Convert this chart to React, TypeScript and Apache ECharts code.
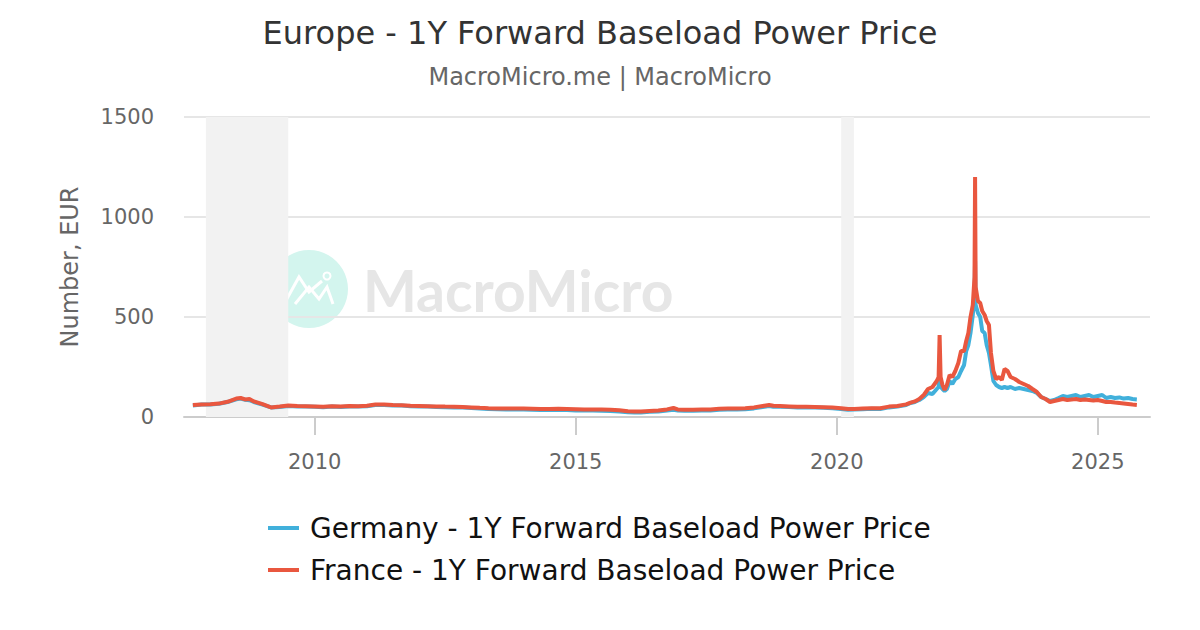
import React, { useEffect, useRef } from "react";
import * as echarts from "echarts";

const TITLE = "Europe - 1Y Forward Baseload Power Price";
const SUBTITLE = "MacroMicro.me | MacroMicro";
const Y_NAME = "Number, EUR";
const GERMANY_NAME = "Germany - 1Y Forward Baseload Power Price";
const FRANCE_NAME = "France - 1Y Forward Baseload Power Price";

const dates = [
  "2007-09-01", "2007-11-01", "2008-01-01", "2008-03-01", "2008-05-01", "2008-07-01", "2008-08-01", "2008-09-01",
  "2008-10-01", "2008-11-01", "2009-01-01", "2009-03-01", "2009-05-01", "2009-07-01", "2009-09-01", "2009-11-01",
  "2010-01-01", "2010-03-01", "2010-05-01", "2010-07-01", "2010-09-01", "2010-11-01", "2011-01-01", "2011-03-01",
  "2011-05-01", "2011-07-01", "2011-09-01", "2011-11-01", "2012-01-01", "2012-03-01", "2012-05-01", "2012-07-01",
  "2012-09-01", "2012-11-01", "2013-01-01", "2013-03-01", "2013-05-01", "2013-07-01", "2013-09-01", "2013-11-01",
  "2014-01-01", "2014-03-01", "2014-05-01", "2014-07-01", "2014-09-01", "2014-11-01", "2015-01-01", "2015-03-01",
  "2015-05-01", "2015-07-01", "2015-09-01", "2015-11-01", "2016-01-01", "2016-02-15", "2016-04-01", "2016-06-01",
  "2016-08-01", "2016-10-01", "2016-11-15", "2016-12-15", "2017-02-01", "2017-04-01", "2017-06-01", "2017-08-01",
  "2017-10-01", "2017-12-01", "2018-02-01", "2018-04-01", "2018-06-01", "2018-08-01", "2018-09-15", "2018-10-15",
  "2018-12-01", "2019-02-01", "2019-04-01", "2019-06-01", "2019-08-01", "2019-10-01", "2019-12-01", "2020-02-01",
  "2020-03-20", "2020-05-01", "2020-07-01", "2020-09-01", "2020-11-01", "2021-01-01", "2021-03-01", "2021-05-01",
  "2021-06-01", "2021-07-01", "2021-08-01", "2021-09-01", "2021-10-01", "2021-11-01", "2021-12-01", "2021-12-14",
  "2021-12-21", "2021-12-28", "2022-01-10", "2022-01-25", "2022-02-10", "2022-03-01", "2022-03-20", "2022-04-10",
  "2022-05-01", "2022-05-20", "2022-06-10", "2022-06-25", "2022-07-10", "2022-07-25", "2022-08-10", "2022-08-22",
  "2022-08-26", "2022-08-30", "2022-09-15", "2022-10-01", "2022-10-15", "2022-11-01", "2022-11-15", "2022-12-01",
  "2022-12-15", "2023-01-01", "2023-01-20", "2023-02-10", "2023-03-01", "2023-03-20", "2023-04-10", "2023-05-01",
  "2023-06-01", "2023-07-01", "2023-08-01", "2023-09-01", "2023-10-01", "2023-11-01", "2023-12-01", "2024-01-01",
  "2024-02-01", "2024-03-01", "2024-04-01", "2024-05-01", "2024-06-01", "2024-07-01", "2024-08-01", "2024-09-01",
  "2024-10-01", "2024-11-01", "2024-12-01", "2025-01-01", "2025-02-01", "2025-03-01", "2025-04-01", "2025-05-01",
  "2025-06-01", "2025-07-01", "2025-08-01", "2025-09-01", "2025-10-01",
];

const germany = [
  58, 62, 63, 66, 75, 88, 92, 86,
  84, 75, 62, 48, 50, 55, 53, 52,
  51, 49, 52, 50, 53, 52, 54, 60,
  60, 58, 57, 54, 53, 52, 50, 49,
  48, 47, 45, 43, 40, 39, 38, 38,
  37, 36, 35, 35, 36, 35, 33, 32,
  32, 31, 30, 28, 24, 22, 23, 26,
  27, 32, 36, 33, 31, 31, 32, 33,
  36, 37, 37, 39, 43, 50, 55, 51,
  51, 50, 48, 48, 48, 46, 44, 40,
  36, 37, 39, 41, 40, 48, 52, 60,
  70, 75, 85, 100, 120, 115, 140, 150,
  230, 150, 140, 130, 140, 180, 165, 190,
  200, 230, 260, 330, 360, 420, 510, 620,
  780, 560, 520, 500, 430, 420, 360, 320,
  260, 180, 160, 150, 145, 150, 145, 150,
  140, 145, 140, 135, 130, 120, 100, 90,
  80, 85, 95, 105, 100, 105, 110, 100,
  105, 110, 100, 105, 110, 95, 100, 95,
  98, 92, 95, 90, 88,
];

const france = [
  60, 63, 64, 67, 76, 92, 95, 88,
  90, 78, 64, 48, 52, 57, 55, 54,
  53, 51, 54, 52, 55, 54, 56, 62,
  62, 60, 59, 56, 55, 54, 53, 52,
  51, 50, 48, 46, 44, 43, 43, 43,
  42, 41, 40, 40, 41, 40, 39, 38,
  37, 37, 36, 34, 29, 27, 28, 30,
  32, 38, 45, 38, 36, 36, 37, 38,
  41, 42, 42, 44, 48, 55, 60, 56,
  55, 53, 51, 51, 50, 49, 47, 44,
  40, 40, 42, 44, 44, 52, 55, 63,
  72, 78, 90, 110, 140, 150, 180, 200,
  410, 200, 160, 135, 160, 210, 200, 230,
  270, 330, 330, 380, 420, 500, 560, 700,
  1200, 650, 580, 570, 530, 510, 480, 460,
  320, 230, 190, 200, 185, 240, 230, 200,
  190, 175, 165, 155, 140, 125, 100, 90,
  75, 80, 85, 90, 85, 88, 90, 85,
  88, 85, 82, 85, 80, 75, 75, 72,
  70, 68, 65, 62, 60,
];

const recessions = [
  ["2007-12-01", "2009-06-30"],
  ["2020-02-01", "2020-04-30"],
];

const X_MIN = "2007-07-01";
const X_MAX = "2026-01-01";
const xTickYears = [2010, 2015, 2020, 2025];

// convert an ISO date string to a decimal year
function toYear(d: string): number {
  const [y, m, day] = d.split("-").map(Number);
  const start = Date.UTC(y, 0, 1);
  const end = Date.UTC(y + 1, 0, 1);
  return y + (Date.UTC(y, m - 1, day) - start) / (end - start);
}

export default function App() {
  const ref = useRef<HTMLDivElement>(null);

  useEffect(() => {
    if (!ref.current) return;
    const chart = echarts.init(ref.current, null, { renderer: "svg" });
    const font = "DejaVu Sans";
    chart.setOption({
      animation: false,
      backgroundColor: "#ffffff",
      textStyle: { fontFamily: font },
      title: {
        text: TITLE,
        subtext: SUBTITLE,
        left: "center",
        top: 10,
        itemGap: 12,
        textStyle: { fontSize: 32, fontWeight: "normal", color: "#333333", lineHeight: 36, fontFamily: font },
        subtextStyle: { fontSize: 24, color: "#666666", lineHeight: 28, fontFamily: font },
      },
      legend: {
        orient: "vertical",
        left: 268,
        top: 513,
        padding: 0,
        itemGap: 12,
        itemWidth: 31,
        itemHeight: 4,
        icon: "rect",
        textStyle: { fontSize: 28, color: "#111111", lineHeight: 30, padding: [0, 0, 0, 6], fontFamily: font },
        data: [GERMANY_NAME, FRANCE_NAME],
      },
      grid: { left: 184, right: 50, top: 117, bottom: 213, containLabel: false },
      xAxis: {
        type: "value",
        min: toYear(X_MIN),
        max: toYear(X_MAX),
        axisLine: { show: true, lineStyle: { color: "#cccccc", width: 2 } },
        axisTick: { show: true, length: 18, lineStyle: { color: "#cccccc", width: 2 }, customValues: xTickYears },
        axisLabel: {
          customValues: xTickYears,
          margin: 34,
          fontSize: 21,
          color: "#666666",
          formatter: (v: number) => String(Math.round(v)),
        },
        splitLine: { show: false },
      },
      yAxis: {
        type: "value",
        min: 0,
        max: 1500,
        interval: 500,
        name: Y_NAME,
        nameLocation: "middle",
        nameGap: 102,
        nameRotate: 90,
        nameTextStyle: { fontSize: 24, color: "#666666" },
        axisLine: { show: false },
        axisTick: { show: false },
        axisLabel: { margin: 30, fontSize: 21, color: "#666666", formatter: (v: number) => String(v) },
        splitLine: { lineStyle: { color: "#e6e6e6", width: 2 } },
      },
      graphic: [
        {
          type: "group",
          z: 1,
          silent: true,
          children: [
            { type: "circle", shape: { cx: 309, cy: 289, r: 39 }, style: { fill: "#d3f5ee" } },
            {
              type: "polyline",
              shape: { points: [[284, 304], [299, 277], [309, 292], [322, 281]] },
              style: { stroke: "#ffffff", lineWidth: 3, fill: "none" },
            },
            {
              type: "polyline",
              shape: { points: [[295, 304], [309, 287], [319, 299], [327, 287], [333, 304]] },
              style: { stroke: "#ffffff", lineWidth: 3, fill: "none" },
            },
            { type: "circle", shape: { cx: 327, cy: 276, r: 3.5 }, style: { fill: "none", stroke: "#ffffff", lineWidth: 2 } },
            {
              type: "text",
              x: 363,
              y: 290,
              style: {
                text: "MacroMicro",
                fontSize: 57,
                fontWeight: "bold",
                fontFamily: "Lato",
                fill: "#e6e6e6",
                verticalAlign: "middle",
              },
            },
          ],
        },
      ],
      series: [
        {
          name: GERMANY_NAME,
          type: "line",
          showSymbol: false,
          symbol: "none",
          color: "#41b0db",
          lineStyle: { width: 4, color: "#41b0db" },
          data: dates.map((d, i) => [toYear(d), germany[i]]),
          z: 3,
          markArea: {
            silent: true,
            itemStyle: { color: "#f2f2f2" },
            data: recessions.map(([a, b]) => [{ xAxis: toYear(a) }, { xAxis: toYear(b) }]),
          },
        },
        {
          name: FRANCE_NAME,
          type: "line",
          showSymbol: false,
          symbol: "none",
          color: "#e9573f",
          lineStyle: { width: 4, color: "#e9573f" },
          data: dates.map((d, i) => [toYear(d), france[i]]),
          z: 4,
        },
      ],
    });
    return () => chart.dispose();
  }, []);

  return (
    <div
      ref={ref}
      style={{ position: "fixed", left: 0, top: 0, width: 1200, height: 630, background: "#fff" }}
    />
  );
}
